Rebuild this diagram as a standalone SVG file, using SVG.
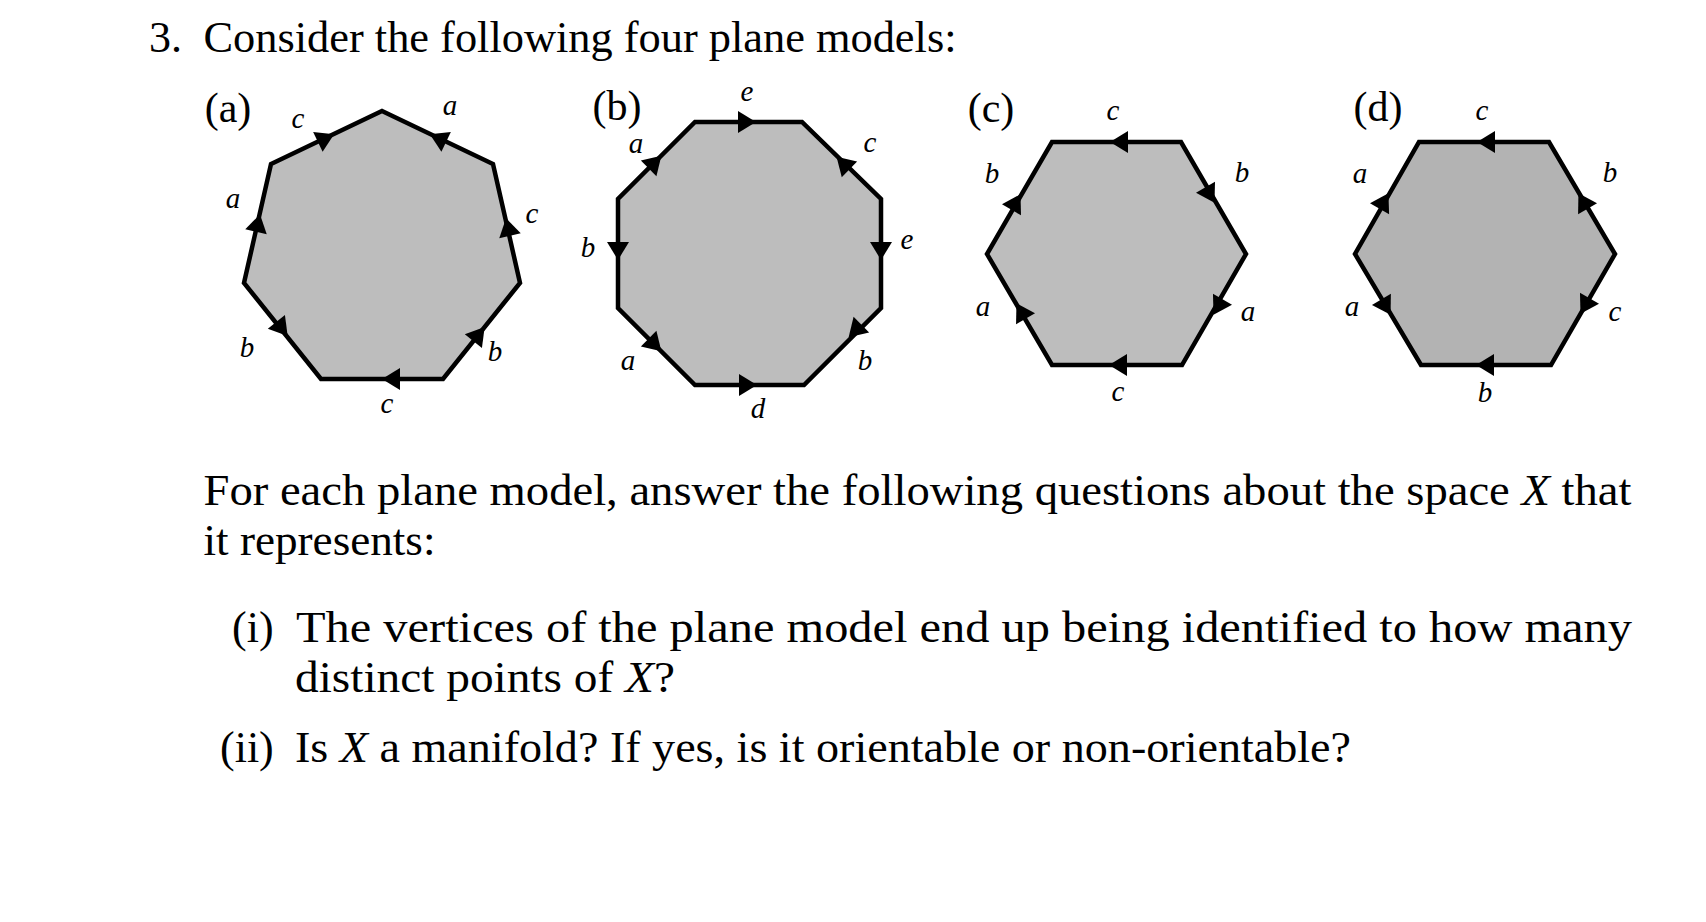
<svg xmlns="http://www.w3.org/2000/svg" xmlns:xlink="http://www.w3.org/1999/xlink" width="1706" height="922" viewBox="0 0 1706 922">
<style>
.txt{font-family:"Liberation Serif","Times New Roman",serif;font-size:44px;fill:#000}
.tag{font-family:"Liberation Serif","Times New Roman",serif;font-size:42px;fill:#000;text-anchor:middle}
.lb{font-family:"Liberation Serif","Times New Roman",serif;font-style:italic;font-size:29px;fill:#000;text-anchor:middle}
.poly{fill:#bdbdbd;stroke:#000;stroke-width:4.5;stroke-linejoin:miter}
.polyd{fill:#b3b3b3;stroke:#000;stroke-width:4.5;stroke-linejoin:miter}
.it{font-style:italic}
</style>
<defs>
<path id="ah" d="M9,0 L-9,-11 L-9,11 Z" fill="#000"/>
</defs>
<rect width="1706" height="922" fill="#fff"/>

<g id="heading">
<text class="txt" x="149" y="52">3.</text>
<text class="txt" x="203.5" y="52" textLength="753" lengthAdjust="spacingAndGlyphs">Consider the following four plane models:</text>
</g>

<g id="model-a">
<polygon class="poly" points="382,111 493,164 520,283 443,379 321,379 244,283 271,164"/>
<g id="arrows-a">
<use xlink:href="#ah" transform="translate(326,138) rotate(-25.5)"/>
<use xlink:href="#ah" transform="translate(438,138) rotate(205.5)"/>
<use xlink:href="#ah" transform="translate(508,227) rotate(-102.8)"/>
<use xlink:href="#ah" transform="translate(479,334) rotate(-51.3)"/>
<use xlink:href="#ah" transform="translate(391,379) rotate(180)"/>
<use xlink:href="#ah" transform="translate(282,329) rotate(51.3)"/>
<use xlink:href="#ah" transform="translate(258,223) rotate(-77.2)"/>
</g>
<text class="tag" x="228" y="122">(a)</text>
<text class="lb" x="298" y="128">c</text>
<text class="lb" x="450" y="115">a</text>
<text class="lb" x="233" y="208">a</text>
<text class="lb" x="532" y="223">c</text>
<text class="lb" x="247" y="357">b</text>
<text class="lb" x="495" y="361">b</text>
<text class="lb" x="387" y="413">c</text>
</g>

<g id="model-b">
<polygon class="poly" points="695,122 802,122 881,199 881,308 804,385 695,385 618,308 618,199"/>
<g id="arrows-b">
<use xlink:href="#ah" transform="translate(747,122) rotate(0)"/>
<use xlink:href="#ah" transform="translate(655,162) rotate(-45)"/>
<use xlink:href="#ah" transform="translate(843,163) rotate(-135.7)"/>
<use xlink:href="#ah" transform="translate(881,251) rotate(90)"/>
<use xlink:href="#ah" transform="translate(855,331) rotate(135)"/>
<use xlink:href="#ah" transform="translate(748,385) rotate(0)"/>
<use xlink:href="#ah" transform="translate(655,345) rotate(45)"/>
<use xlink:href="#ah" transform="translate(618,251) rotate(90)"/>
</g>
<text class="tag" x="617" y="120">(b)</text>
<text class="lb" x="747" y="101">e</text>
<text class="lb" x="636" y="153">a</text>
<text class="lb" x="870" y="152">c</text>
<text class="lb" x="588" y="257">b</text>
<text class="lb" x="907" y="249">e</text>
<text class="lb" x="628" y="370">a</text>
<text class="lb" x="865" y="370">b</text>
<text class="lb" x="758" y="418">d</text>
</g>

<g id="model-c">
<polygon class="poly" points="1052,142 1181,142 1246,254 1182,365 1052,365 987,254"/>
<g id="arrows-c">
<use xlink:href="#ah" transform="translate(1119,142) rotate(180)"/>
<use xlink:href="#ah" transform="translate(1210,195) rotate(59.9)"/>
<use xlink:href="#ah" transform="translate(1218,307) rotate(120)"/>
<use xlink:href="#ah" transform="translate(1118,365) rotate(180)"/>
<use xlink:href="#ah" transform="translate(1021,311) rotate(-120.4)"/>
<use xlink:href="#ah" transform="translate(1016,202) rotate(-59.9)"/>
</g>
<text class="tag" x="991" y="122">(c)</text>
<text class="lb" x="1113" y="120">c</text>
<text class="lb" x="992" y="183">b</text>
<text class="lb" x="1242" y="182">b</text>
<text class="lb" x="983" y="316">a</text>
<text class="lb" x="1248" y="321">a</text>
<text class="lb" x="1118" y="401">c</text>
</g>

<g id="model-d">
<polygon class="polyd" points="1419,142 1549,142 1615,254 1551,365 1421,365 1355,254"/>
<g id="arrows-d">
<use xlink:href="#ah" transform="translate(1486,142) rotate(180)"/>
<use xlink:href="#ah" transform="translate(1583,201) rotate(-120.5)"/>
<use xlink:href="#ah" transform="translate(1585,306) rotate(120)"/>
<use xlink:href="#ah" transform="translate(1485,365) rotate(180)"/>
<use xlink:href="#ah" transform="translate(1386,307) rotate(59.3)"/>
<use xlink:href="#ah" transform="translate(1384,201) rotate(-60.3)"/>
</g>
<text class="tag" x="1378" y="121">(d)</text>
<text class="lb" x="1482" y="120">c</text>
<text class="lb" x="1360" y="183">a</text>
<text class="lb" x="1610" y="182">b</text>
<text class="lb" x="1352" y="316">a</text>
<text class="lb" x="1615" y="321">c</text>
<text class="lb" x="1485" y="402">b</text>
</g>

<g id="questions">
<text class="txt" x="203.5" y="505" textLength="1428" lengthAdjust="spacingAndGlyphs">For each plane model, answer the following questions about the space <tspan class="it">X</tspan> that</text>
<text class="txt" x="203.5" y="555" textLength="232" lengthAdjust="spacingAndGlyphs">it represents:</text>
<text class="txt" x="232" y="642">(i)</text>
<text class="txt" x="296" y="642" textLength="1336" lengthAdjust="spacingAndGlyphs">The vertices of the plane model end up being identified to how many</text>
<text class="txt" x="295" y="692" textLength="380" lengthAdjust="spacingAndGlyphs">distinct points of <tspan class="it">X</tspan>?</text>
<text class="txt" x="220" y="762">(ii)</text>
<text class="txt" x="295" y="762" textLength="1056" lengthAdjust="spacingAndGlyphs">Is <tspan class="it">X</tspan> a manifold? If yes, is it orientable or non-orientable?</text>
</g>
</svg>
